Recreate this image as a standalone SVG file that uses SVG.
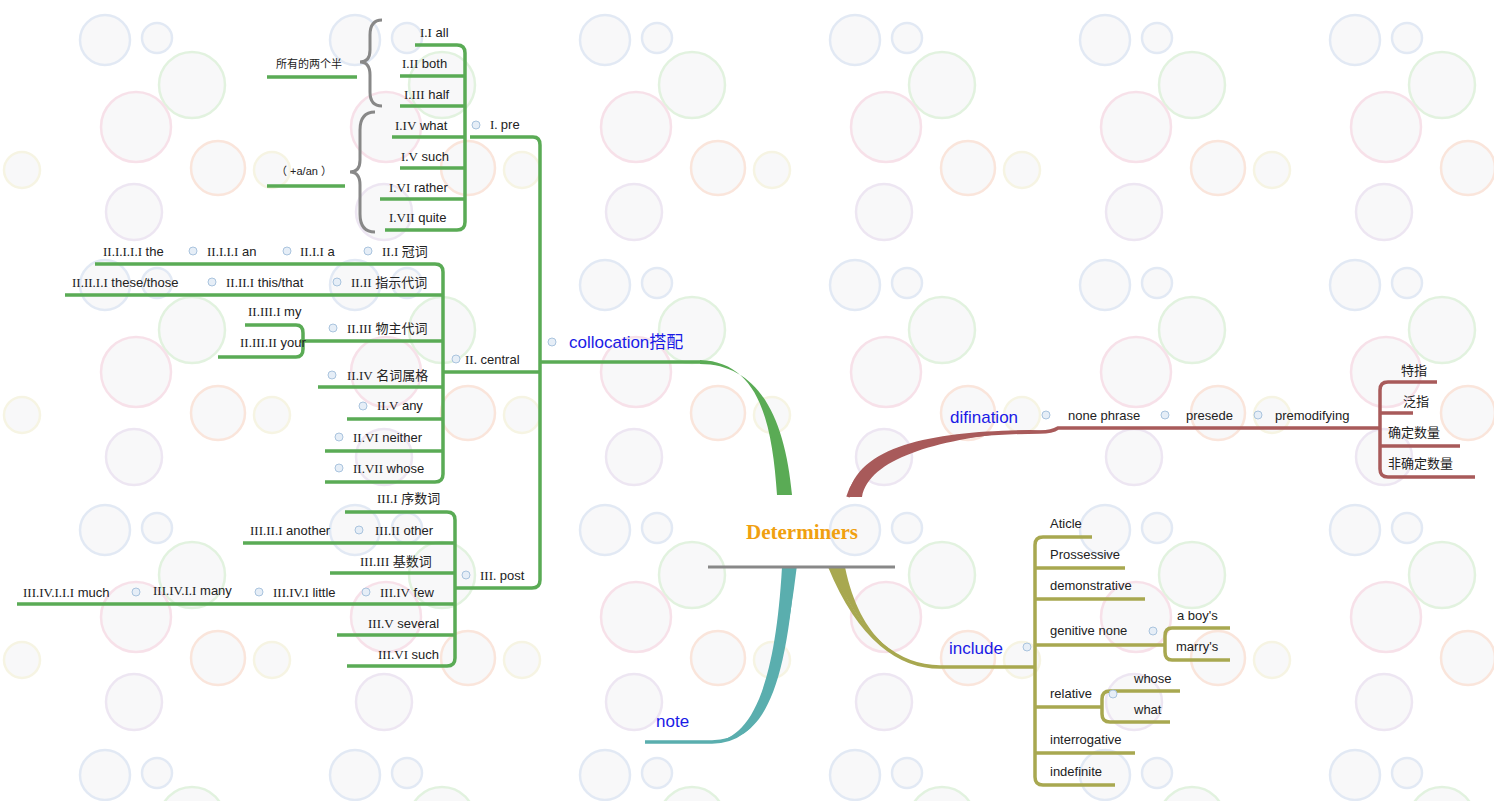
<svg xmlns="http://www.w3.org/2000/svg" width="1494" height="801" viewBox="0 0 1494 801">
<defs>
<style>
text{font-family:"Liberation Sans","Noto Sans CJK SC",sans-serif;font-size:13px;fill:#222}
.r{font-family:"Liberation Serif","Noto Sans CJK SC",serif;font-size:13px}
.b{fill:#1a1ae6;font-size:17px}
.g{fill:none;stroke:#5aab55;stroke-width:3.5;stroke-linejoin:round}
.br{fill:none;stroke:#a85a5a;stroke-width:3.5}
.ol{fill:none;stroke:#a8a850;stroke-width:3.5}
.ic{fill:#e6eef7;stroke:#aac4de;stroke-width:1}
</style>
<pattern id="bub" width="250" height="245" patternUnits="userSpaceOnUse">
<g fill="#f2f2f4" stroke-width="2.5" opacity="0.5">
<circle cx="105" cy="40" r="25" stroke="#c6d4ea"/>
<circle cx="157" cy="38" r="15" stroke="#c6d4ea"/>
<circle cx="192" cy="85" r="33" stroke="#c5e6c0"/>
<circle cx="136" cy="127" r="35" stroke="#f0c4d4"/>
<circle cx="218" cy="168" r="27" stroke="#f5cbb8"/>
<circle cx="134" cy="212" r="28" stroke="#dccde6"/>
<circle cx="22" cy="170" r="18" stroke="#eeeac8"/>
</g>
</pattern>
</defs>
<rect width="1494" height="801" fill="#fff"/>
<rect width="1494" height="801" fill="url(#bub)"/>
<g id="connectors">
<path d="M700 360 C758 362 772 420 777 495 L792 495 C785 420 760 364 700 364 Z" fill="#5aab55"/>
<path d="M848 497 C860 450 950 432 1040 432 C1050 432 1055 430 1058 428 L1380 428" class="br"/>
<path d="M848 497 C858 440 950 430 1045 430 C950 436 870 455 862 497 Z" fill="#a85a5a"/>
<path d="M830 567 C860 640 900 667 940 667 L1035 667" class="ol"/>
<path d="M830 567 C870 650 905 668 940 667 C900 665 860 640 845 567 Z" fill="#a8a850"/>
<path d="M795 567 C780 690 760 742 712 742 L645 742" fill="none" stroke="#5aaeae" stroke-width="3.5"/>
<path d="M795 567 C785 700 760 742 712 742 C750 740 775 690 782 567 Z" fill="#5aaeae"/>
<line x1="708" y1="567" x2="895" y2="567" stroke="#888" stroke-width="3"/>
<path d="M470 137 L533 137 Q540 137 540 145 L540 580 Q540 588 532 588 L455 588" class="g"/>
<path d="M540 362 L700 362" class="g"/>
<path d="M443 372 L540 372" class="g"/>
<path d="M415 45 L457 45 Q465 45 465 53 L465 222 Q465 230 457 230 L385 230" class="g"/>
<path d="M400 76 L465 76 M400 106 L465 106 M392 137 L465 137 M400 168 L465 168 M380 199 L465 199" class="g"/>
<path d="M95 264 L435 264 Q443 264 443 272 L443 474 Q443 482 435 482 L325 482" class="g"/>
<path d="M65 295 L443 295 M300 341 L443 341 M318 387 L443 387 M347 419 L443 419 M325 451 L443 451" class="g"/>
<path d="M245 325 L296 325 Q303 325 303 333 L303 349 Q303 357 296 357 L218 357" class="g"/>
<path d="M345 512 L447 512 Q455 512 455 520 L455 658 Q455 666 447 666 L347 666" class="g"/>
<path d="M243 543 L455 543 M330 573 L455 573 M17 604 L455 604 M337 635 L455 635" class="g"/>
<path d="M267 77 L357 77 M267 186 L345 186" class="g"/>
<path d="M382 20 Q370 20 370 35 L370 50 Q370 62 360 62 Q370 62 370 75 L370 92 Q370 106 382 106" fill="none" stroke="#888" stroke-width="3"/>
<path d="M375 112 Q360 112 360 130 L360 160 Q360 172 350 172 Q360 172 360 185 L360 214 Q360 232 375 232" fill="none" stroke="#888" stroke-width="3"/>
<path d="M1437 382 L1388 382 Q1380 382 1380 390 L1380 469 Q1380 477 1388 477 L1475 477 M1380 413 L1413 413 M1380 446 L1460 446" class="br"/>
<path d="M1092 537 L1043 537 Q1035 537 1035 545 L1035 777 Q1035 785 1043 785 L1115 785 M1035 568 L1125 568 M1035 599 L1145 599 M1035 645 L1165 645 M1035 707 L1102 707 M1035 753 L1135 753" class="ol"/>
<path d="M1230 628 L1172 628 Q1165 628 1165 636 L1165 652 Q1165 660 1172 660 L1230 660" class="ol"/>
<path d="M1180 691 L1110 691 Q1102 691 1102 699 L1102 714 Q1102 722 1110 722 L1170 722" class="ol"/>
</g>
<g id="icons">
<circle class="ic" cx="476" cy="125" r="4"/><circle class="ic" cx="552" cy="342" r="4"/>
<circle class="ic" cx="456" cy="359" r="4"/><circle class="ic" cx="466" cy="575" r="4"/>
<circle class="ic" cx="193" cy="251" r="4"/><circle class="ic" cx="287" cy="251" r="4"/><circle class="ic" cx="368" cy="251" r="4"/>
<circle class="ic" cx="212" cy="282" r="4"/><circle class="ic" cx="337" cy="282" r="4"/><circle class="ic" cx="333" cy="328" r="4"/>
<circle class="ic" cx="332" cy="375" r="4"/><circle class="ic" cx="363" cy="406" r="4"/><circle class="ic" cx="339" cy="437" r="4"/><circle class="ic" cx="339" cy="468" r="4"/>
<circle class="ic" cx="359" cy="530" r="4"/><circle class="ic" cx="136" cy="592" r="4"/><circle class="ic" cx="259" cy="592" r="4"/><circle class="ic" cx="366" cy="592" r="4"/>
<circle class="ic" cx="1046" cy="415" r="4"/><circle class="ic" cx="1165" cy="415" r="4"/><circle class="ic" cx="1258" cy="415" r="4"/>
<circle class="ic" cx="1027" cy="647" r="4"/><circle class="ic" cx="1153" cy="631" r="4"/><circle class="ic" cx="1113" cy="694" r="4"/>
</g>
<g id="center"><text x="802" y="539" text-anchor="middle" style="font-family:'Liberation Serif',serif;font-size:21px;font-weight:bold;fill:#f0a010">Determiners</text></g>
<g id="main-labels">
<text class="b" x="569" y="348">collocation搭配</text>
<text class="b" x="950" y="423">difination</text>
<text class="b" x="949" y="654">include</text>
<text class="b" x="656" y="727">note</text>
</g>
<g id="pre">
<text class="r" x="490" y="129">I. <tspan style="font-family:'Liberation Sans';">pre</tspan></text>
<text x="420" y="37"><tspan class="r">I.I</tspan> all</text>
<text x="402" y="68"><tspan class="r">I.II</tspan> both</text>
<text x="404" y="99"><tspan class="r">I.III</tspan> half</text>
<text x="395" y="130"><tspan class="r">I.IV</tspan> what</text>
<text x="401" y="161"><tspan class="r">I.V</tspan> such</text>
<text x="389" y="192"><tspan class="r">I.VI</tspan> rather</text>
<text x="389" y="222"><tspan class="r">I.VII</tspan> quite</text>
<text x="276" y="68" style="font-size:11px">所有的两个半</text>
<text x="276" y="175" style="font-size:11px">（ +a/an ）</text>
</g>
<g id="central">
<text x="465" y="364"><tspan class="r">II.</tspan> central</text>
<text x="103" y="256"><tspan class="r">II.I.I.I.I</tspan>  the</text>
<text x="207" y="256"><tspan class="r">II.I.I.I</tspan>  an</text>
<text x="300" y="256"><tspan class="r">II.I.I</tspan>   a</text>
<text x="382" y="256"><tspan class="r">II.I</tspan> 冠词</text>
<text x="72" y="287"><tspan class="r">II.II.I.I</tspan> these/those</text>
<text x="226" y="287"><tspan class="r">II.II.I</tspan> this/that</text>
<text x="351" y="287"><tspan class="r">II.II</tspan> 指示代词</text>
<text x="248" y="316"><tspan class="r">II.III.I</tspan>  my</text>
<text x="240" y="347"><tspan class="r">II.III.II</tspan> your</text>
<text x="347" y="333"><tspan class="r">II.III</tspan> 物主代词</text>
<text x="347" y="380"><tspan class="r">II.IV</tspan> 名词属格</text>
<text x="377" y="410"><tspan class="r">II.V</tspan>  any</text>
<text x="353" y="442"><tspan class="r">II.VI</tspan> neither</text>
<text x="353" y="473"><tspan class="r">II.VII</tspan>  whose</text>
</g>
<g id="post">
<text x="480" y="580"><tspan class="r">III.</tspan> post</text>
<text x="377" y="503"><tspan class="r">III.I</tspan> 序数词</text>
<text x="250" y="535"><tspan class="r">III.II.I</tspan> another</text>
<text x="375" y="535"><tspan class="r">III.II</tspan>  other</text>
<text x="360" y="566"><tspan class="r">III.III</tspan>  基数词</text>
<text x="23" y="597"><tspan class="r">III.IV.I.I.I</tspan> much</text>
<text x="153" y="595"><tspan class="r">III.IV.I.I</tspan> many</text>
<text x="273" y="597"><tspan class="r">III.IV.I</tspan> little</text>
<text x="380" y="597"><tspan class="r">III.IV</tspan>  few</text>
<text x="368" y="628"><tspan class="r">III.V</tspan> several</text>
<text x="378" y="659"><tspan class="r">III.VI</tspan> such</text>
</g>
<g id="difination">
<text x="1068" y="420">none phrase</text>
<text x="1186" y="420">presede</text>
<text x="1275" y="420">premodifying</text>
<text x="1401" y="375">特指</text>
<text x="1403" y="406">泛指</text>
<text x="1388" y="437">确定数量</text>
<text x="1388" y="468">非确定数量</text>
</g>
<g id="include">
<text x="1050" y="528">Aticle</text>
<text x="1050" y="559">Prossessive</text>
<text x="1050" y="590">demonstrative</text>
<text x="1050" y="635">genitive none</text>
<text x="1177" y="620">a boy's</text>
<text x="1176" y="651">marry's</text>
<text x="1050" y="698">relative</text>
<text x="1134" y="683">whose</text>
<text x="1134" y="714">what</text>
<text x="1050" y="744">interrogative</text>
<text x="1050" y="776">indefinite</text>
</g>
</svg>
